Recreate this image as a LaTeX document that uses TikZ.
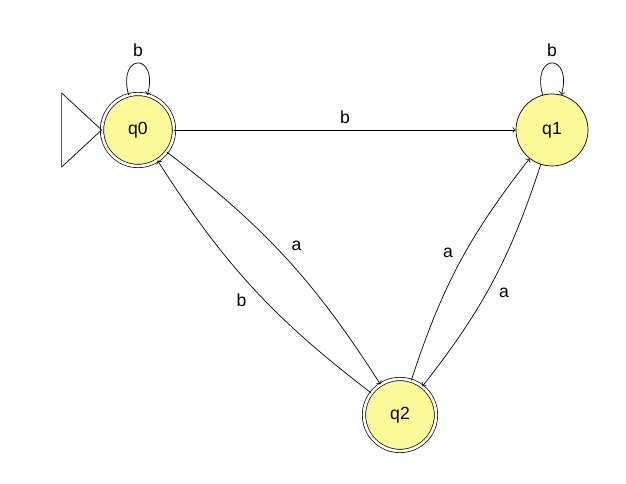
\documentclass[tikz,border=0pt]{standalone}
\usepackage{fontspec}
\setmainfont{Liberation Sans}
\usetikzlibrary{automata}
\begin{document}
\begin{tikzpicture}[
        >=to,
        auto,
        state/.append style={minimum size=1.44cm, fill=yellow!40, draw=black, inner sep=0pt},
        accepting/.style={double distance=1.5pt},
        thin
        ]
        \useasboundingbox (0,0) rectangle (12.52,9.68);
        \node[state, accepting] (q0) at (2.76,7.08) {q0};
        \node[state] (q1) at (11.04,7.08) {q1};
        \node[state, accepting] (q2) at (8.0,1.38) {q2};
        \draw (q0.west) -- ++(-0.8,0.74) -- ++(0,-1.48) -- cycle;
        \path[->]
              (q0) edge node {b} (q1)
              (q0) edge [loop above, looseness=6] node {b} (q0)
              (q1) edge [loop above, looseness=6] node {b} (q1)
              (q0) edge [bend left=10] node {a} (q2)
              (q2) edge [bend left=10] node {b} (q0)
              (q1) edge [bend left=10] node {a} (q2)
              (q2) edge [bend left=10] node {a} (q1);
\end{tikzpicture}
\end{document}
